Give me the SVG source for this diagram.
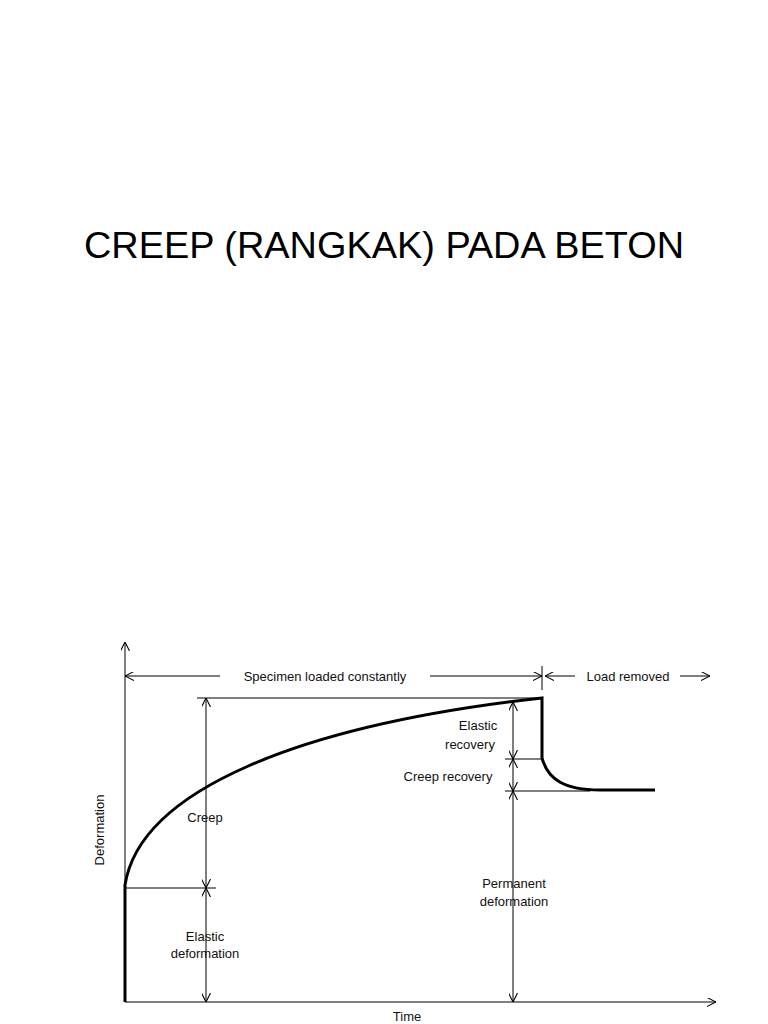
<svg xmlns="http://www.w3.org/2000/svg" width="768" height="1024" viewBox="0 0 768 1024">
<defs>
<marker id="ah" viewBox="0 0 10 10" refX="10" refY="5" markerWidth="9" markerHeight="9" orient="auto-start-reverse" markerUnits="userSpaceOnUse"><path d="M0,0 L10,5 L0,10" fill="none" stroke="#000" stroke-width="1.2"/></marker>
</defs>
<style>
.l{stroke:#000;stroke-width:1;fill:none}
.t{font-family:"Liberation Sans",Arial,sans-serif;font-size:13px;fill:#111}
</style>
<rect width="768" height="1024" fill="#fff"/>
<text x="384" y="258" text-anchor="middle" style="font-family:'Liberation Sans',Arial,sans-serif;font-size:37px" fill="#000" textLength="600" lengthAdjust="spacingAndGlyphs">CREEP (RANGKAK) PADA BETON</text>
<g id="axes">
<line x1="125" y1="1002" x2="125" y2="642" class="l" stroke-width="2" marker-end="url(#ah)"/>
<line x1="125" y1="1002" x2="716" y2="1002" class="l" stroke-width="2" marker-end="url(#ah)"/>
<text class="t" transform="translate(104,830) rotate(-90)" text-anchor="middle">Deformation</text>
<text class="t" x="407" y="1021" text-anchor="middle">Time</text>
</g>
<g id="curve">
<path d="M125,1002 L125,885 C140,790 300,725 542,698 L542,758 C548,780 565,790 600,790 L655,790" fill="none" stroke="#000" stroke-width="3"/>
</g>
<g id="connectors">
<line x1="125" y1="676" x2="220" y2="676" class="l" marker-start="url(#ah)"/>
<line x1="430" y1="676" x2="542" y2="676" class="l" marker-end="url(#ah)"/>
<line x1="542" y1="666" x2="542" y2="690" class="l"/>
<line x1="545" y1="676" x2="575" y2="676" class="l" marker-start="url(#ah)"/>
<line x1="680" y1="676" x2="710" y2="676" class="l" marker-end="url(#ah)"/>
<line x1="197" y1="698" x2="542" y2="698" class="l"/>
<line x1="125" y1="888" x2="216" y2="888" class="l"/>
<line x1="206" y1="698" x2="206" y2="888" class="l" marker-start="url(#ah)" marker-end="url(#ah)"/>
<line x1="206" y1="888" x2="206" y2="1002" class="l" marker-start="url(#ah)" marker-end="url(#ah)"/>
<line x1="505" y1="759" x2="542" y2="759" class="l"/>
<line x1="505" y1="791" x2="590" y2="791" class="l"/>
<line x1="513" y1="702" x2="513" y2="759" class="l" marker-start="url(#ah)" marker-end="url(#ah)"/>
<line x1="513" y1="759" x2="513" y2="791" class="l" marker-start="url(#ah)" marker-end="url(#ah)"/>
<line x1="513" y1="791" x2="513" y2="1002" class="l" marker-start="url(#ah)" marker-end="url(#ah)"/>
</g>
<g id="labels">
<text class="t" x="325" y="681" text-anchor="middle">Specimen loaded constantly</text>
<text class="t" x="628" y="681" text-anchor="middle">Load removed</text>
<text class="t" x="478" y="730" text-anchor="middle">Elastic</text>
<text class="t" x="470" y="749" text-anchor="middle">recovery</text>
<text class="t" x="448" y="781" text-anchor="middle">Creep recovery</text>
<text class="t" x="205" y="822" text-anchor="middle">Creep</text>
<text class="t" x="514" y="888" text-anchor="middle">Permanent</text>
<text class="t" x="514" y="906" text-anchor="middle">deformation</text>
<text class="t" x="205" y="941" text-anchor="middle">Elastic</text>
<text class="t" x="205" y="958" text-anchor="middle">deformation</text>
</g>
</svg>
